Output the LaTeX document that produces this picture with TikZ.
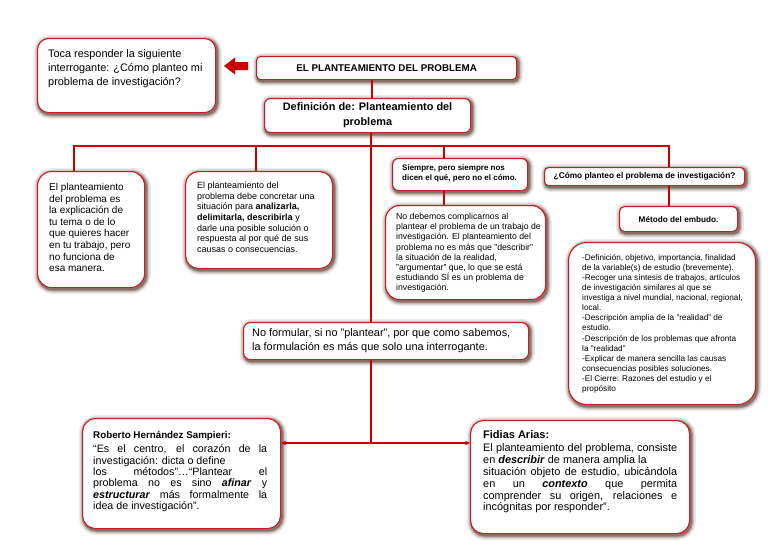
\documentclass[tikz,border=0pt]{standalone}
\usepackage{fontspec}
\setmainfont{Liberation Sans}
\usetikzlibrary{arrows.meta}
\definecolor{bred}{RGB}{200,30,35}
\definecolor{lred}{RGB}{204,0,0}
\definecolor{shc}{RGB}{85,55,40}
\tikzset{
  glow/.style={
    preaction={draw=shc, draw opacity=.10, line width=10pt, transform canvas={shift={(1.2pt,-1.5pt)}}},
    preaction={draw=shc, draw opacity=.18, line width=7pt, transform canvas={shift={(1.2pt,-1.5pt)}}},
    preaction={draw=shc, draw opacity=.30, line width=4.5pt, transform canvas={shift={(1.2pt,-1.5pt)}}},
    preaction={draw=shc, draw opacity=.40, line width=2.5pt, transform canvas={shift={(1.2pt,-1.5pt)}}}},
  box/.style={glow, draw=bred, line width=1.1pt, fill=white, inner sep=0pt, anchor=north west},
  txt/.style={anchor=north west, inner sep=0pt, align=left},
  conn/.style={draw=lred, line width=1.1pt},
  tip/.style={-{Stealth[length=5pt,width=4.5pt]}}
}
\newcommand\boxat[6]{\node[box, rounded corners=#6pt, minimum width={#4-#2}, minimum height={#5-#3}] (#1) at (#2,#3) {};}
\newcommand\fs[2]{\fontsize{#1}{#2}\selectfont}
\begin{document}
\begin{tikzpicture}[x=1pt,y=-1pt]
\useasboundingbox[fill=white] (0,0) rectangle (768,544);

% boxes
\boxat{toca}{37}{38}{215}{112}{11}
\node[txt, font=\fs{10.9}{14}] (tocat) at (48,49) {Toca responder la siguiente\\interrogante: ¿Cómo planteo mi\\problema de investigación?};

\node[box, rounded corners=4pt, minimum width=260, minimum height=23, font=\bfseries\fs{9.8}{12}] (title) at (256,56) {EL PLANTEAMIENTO DEL PROBLEMA};

\node[box, rounded corners=6pt, minimum width=206, minimum height=34, align=center, font=\bfseries\fs{10.9}{15}] (def) at (264,98) {Definición de: Planteamiento del\\problema};

\boxat{pl1}{37}{171}{144}{287}{14}
\node[txt, font=\fs{10}{11.6}] (pl1t) at (49,183) {El planteamiento\\del problema es\\la explicación de\\tu tema o de lo\\que quieres hacer\\en tu trabajo, pero\\no funciona de\\esa manera.};

\boxat{pl2}{185}{171}{332}{268}{13}
\node[txt, font=\fs{9}{10.6}] (pl2t) at (197,182) {El planteamiento del\\problema debe concretar una\\situación para \textbf{analizarla,}\\\textbf{delimitarla, describirla} y\\darle una posible solución o\\respuesta al por qué de sus\\causas o consecuencias.};

\boxat{siem}{392}{158}{527}{190}{6}
\node[txt, font=\bfseries\fs{8}{10.5}] (siemt) at (402,164) {Siempre, pero siempre nos\\dicen el qué, pero no el cómo.};

\boxat{nodeb}{385}{205}{545}{299}{14}
\node[txt, font=\fs{8.7}{10.2}] (nodebt) at (396,213) {No debemos complicarnos al\\plantear el problema de un trabajo de\\investigación. El planteamiento del\\problema no es más que "describir"\\la situación de la realidad,\\"argumentar" que, lo que se está\\estudiando SÍ es un problema de\\investigación.};

\node[box, rounded corners=4pt, minimum width=200, minimum height=18, font=\bfseries\fs{8.3}{10}] (como) at (544,167) {¿Cómo planteo el problema de investigación?};

\node[box, rounded corners=5pt, minimum width=118, minimum height=25, font=\bfseries\fs{8.2}{10}] (metodo) at (619,206) {Método del embudo.};

\boxat{lista}{568}{242}{755}{404}{18}
\node[txt, font=\fs{8.2}{10.1}] (listat) at (582,254) {-Definición, objetivo, importancia, finalidad\\de la variable(s) de estudio (brevemente).\\-Recoger una síntesis de trabajos, artículos\\de investigación similares al que se\\investiga a nivel mundial, nacional, regional,\\local.\\-Descripción amplia de la "realidad" de\\estudio.\\-Descripción de los problemas que afronta\\la "realidad"\\-Explicar de manera sencilla las causas\\consecuencias posibles soluciones.\\-El Cierre: Razones del estudio y el\\propósito};

\boxat{nof}{243}{322}{528}{359}{7}
\node[txt, font=\fs{10.9}{14}] (noft) at (252,328) {No formular, si no "plantear", por que como sabemos,\\la formulación es más que solo una interrogante.};

\boxat{rob}{82}{418}{280}{528}{13}
\node[txt, font=\fs{10.7}{11.4}] (robt) at (93,431) {{\bfseries\fs{9.8}{11.4}Roberto Hernández Sampieri:}\\[3pt]
\makebox[174pt][s]{“Es el centro, el corazón de la}\\
investigación: dicta o define\\
\makebox[174pt][s]{los métodos”…“Plantear el}\\
\makebox[174pt][s]{problema no es sino \textbf{\textit{afinar}} y}\\
\makebox[174pt][s]{\textbf{\textit{estructurar}} más formalmente la}\\
idea de investigación”.};

\boxat{fid}{470}{420}{689}{533}{13}
\node[txt, font=\fs{10.9}{11.8}] (fidt) at (483,430) {{\bfseries\fs{11}{11.8}Fidias Arias:}\\[2pt]
\makebox[194pt][s]{El planteamiento del problema, consiste}\\
en \textbf{\textit{describir}} de manera amplia la\\
\makebox[194pt][s]{situación objeto de estudio, ubicándola}\\
\makebox[194pt][s]{en un \textbf{\textit{contexto}} que permita}\\
\makebox[194pt][s]{comprender su origen, relaciones e}\\
incógnitas por responder".};

% red block arrow
\fill[lred] (224,66) -- (235,57.5) -- (235,62) -- (248,62) -- (248,70) -- (235,70) -- (235,74.5) -- cycle;

% connectors
\coordinate (tx) at (372,0);
\coordinate (spine) at (371,146);
\coordinate (b1) at (74,146);
\coordinate (b2) at (256,146);
\coordinate (b3) at (444,146);
\coordinate (b4) at (669,146);
\coordinate (j) at (371,443);
\draw[conn] (title.south -| tx) -- (def.north -| tx);
\draw[conn] (def.south -| spine) -- (nof.north -| spine);
\draw[conn] (pl1.north -| b1) -- (b1) -- (b4) -- (como.north -| b4);
\draw[conn] (b2) -- (pl2.north -| b2);
\draw[conn] (b3) -- (siem.north -| b3);
\draw[conn] (siem.south -| b3) -- (nodeb.north -| b3);
\draw[conn] (como.south -| b4) -- (metodo.north -| b4);
\draw[conn] (nof.south -| j) -- (j);
\draw[conn, tip] (j) -- (rob.east |- j);
\draw[conn, tip] (j) -- (fid.west |- j);
\end{tikzpicture}
\end{document}
